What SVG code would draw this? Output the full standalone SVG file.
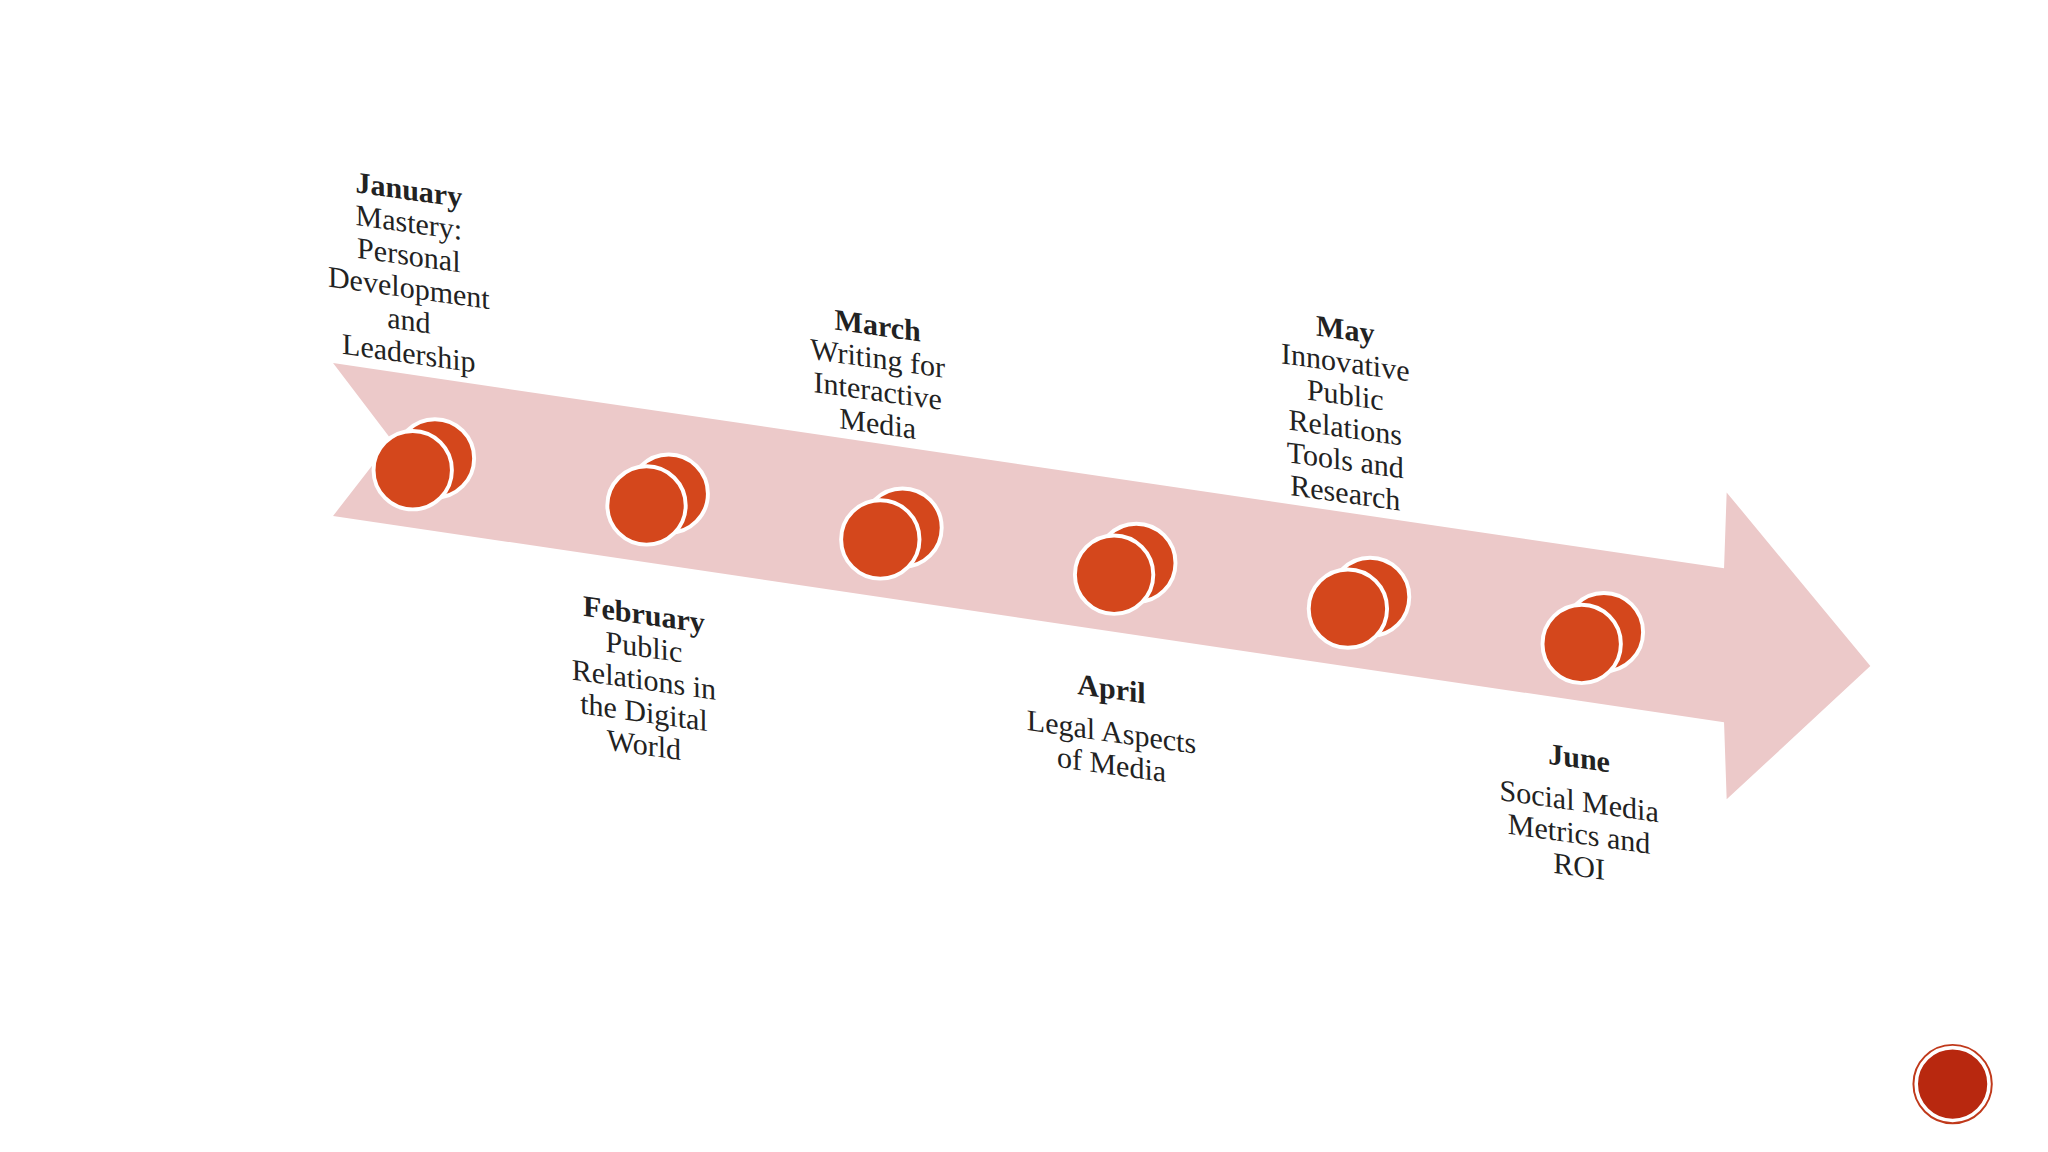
<svg xmlns="http://www.w3.org/2000/svg" width="2048" height="1152" viewBox="0 0 2048 1152">
<style>
.t{font-family:"Liberation Serif","DejaVu Serif",serif;font-size:23px;fill:#222;text-anchor:middle}
.b{font-weight:bold}
.c{fill:#d4471c;stroke:#fff;stroke-width:3}
</style>
<rect width="2048" height="1152" fill="#fff"/>
<g transform="scale(1.3061)">
<g id="arrow"><path d="M255,278 L1320,435 L1322,377 L1432,510 L1322,612 L1320,553 L255,395 L300,337 Z" fill="#ecc9c9"/></g>
<g id="connectors"></g>
<g id="n1"><circle class="c" cx="333" cy="351" r="30"/><circle class="c" cx="316" cy="360" r="30"/></g>
<g id="n2"><circle class="c" cx="512" cy="378" r="30"/><circle class="c" cx="495" cy="387" r="30"/></g>
<g id="n3"><circle class="c" cx="691" cy="404" r="30"/><circle class="c" cx="674" cy="413" r="30"/></g>
<g id="n4"><circle class="c" cx="870" cy="431" r="30"/><circle class="c" cx="853" cy="440" r="30"/></g>
<g id="n5"><circle class="c" cx="1049" cy="457" r="30"/><circle class="c" cx="1032" cy="466" r="30"/></g>
<g id="n6"><circle class="c" cx="1228" cy="484" r="30"/><circle class="c" cx="1211" cy="493" r="30"/></g>
<g id="l1" transform="translate(313,153) skewY(8)"><text class="t"><tspan class="b" x="0" y="0">January</tspan><tspan x="0" dy="25">Mastery:</tspan><tspan x="0" dy="25">Personal</tspan><tspan x="0" dy="25">Development</tspan><tspan x="0" dy="25">and</tspan><tspan x="0" dy="25">Leadership</tspan></text></g>
<g id="l2" transform="translate(493,478) skewY(8)"><text class="t"><tspan class="b" x="0" y="0">February</tspan><tspan x="0" dy="25">Public</tspan><tspan x="0" dy="25">Relations in</tspan><tspan x="0" dy="25">the Digital</tspan><tspan x="0" dy="25">World</tspan></text></g>
<g id="l3" transform="translate(672,257) skewY(8)"><text class="t"><tspan class="b" x="0" y="0">March</tspan><tspan x="0" dy="25">Writing for</tspan><tspan x="0" dy="25">Interactive</tspan><tspan x="0" dy="25">Media</tspan></text></g>
<g id="l4" transform="translate(851,535) skewY(8)"><text class="t"><tspan class="b" x="0" y="0">April</tspan><tspan x="0" dy="33">Legal Aspects</tspan><tspan x="0" dy="25">of Media</tspan></text></g>
<g id="l5" transform="translate(1030,260) skewY(8)"><text class="t"><tspan class="b" x="0" y="0">May</tspan><tspan x="0" dy="25">Innovative</tspan><tspan x="0" dy="25">Public</tspan><tspan x="0" dy="25">Relations</tspan><tspan x="0" dy="25">Tools and</tspan><tspan x="0" dy="25">Research</tspan></text></g>
<g id="l6" transform="translate(1209,588) skewY(8)"><text class="t"><tspan class="b" x="0" y="0">June</tspan><tspan x="0" dy="33">Social Media</tspan><tspan x="0" dy="25">Metrics and</tspan><tspan x="0" dy="25">ROI</tspan></text></g>
<g id="logo"><circle cx="1495" cy="830" r="28" fill="#b8280f" stroke="#fff" stroke-width="3"/><circle cx="1495" cy="830" r="30" fill="none" stroke="#c0391b" stroke-width="1.5"/></g>
</g>
</svg>
